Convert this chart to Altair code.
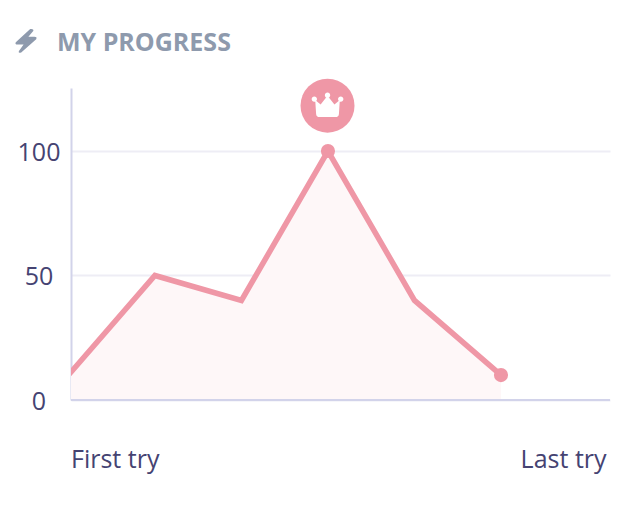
import altair as alt
import pandas as pd

tries = [0, 1, 2, 3, 4, 5]
scores = [10, 50, 40, 100, 40, 10]
best_try = [3, 5]
best_score = [100, 10]
tick_values = [0, 50, 100]
title_text = ["MY PROGRESS"]
end_labels = ["First try", "Last try"]
end_positions = [0.03, 6.22]

PINK = "#ef97a6"
INK = "#454372"
GREY = "#8e9aad"
AXIS = "#d2d3ea"
FONT = "Open Sans"

CROWN = ("M-0.82,-0.38 L-0.46,-0.08 L0,-0.66 L0.46,-0.08 L0.82,-0.38 L0.76,0.55 "
         "Q0.74,0.76 0.54,0.76 L-0.54,0.76 Q-0.74,0.76 -0.76,0.55 Z "
         "M-1.06,-0.44 A0.18,0.18 0 1,1 -0.70,-0.44 A0.18,0.18 0 1,1 -1.06,-0.44 Z "
         "M0.70,-0.44 A0.18,0.18 0 1,1 1.06,-0.44 A0.18,0.18 0 1,1 0.70,-0.44 Z "
         "M-0.18,-0.70 A0.18,0.18 0 1,1 0.18,-0.70 A0.18,0.18 0 1,1 -0.18,-0.70 Z")
BOLT = ("M0.35,-1 L-0.85,0.1 Q-0.95,0.3 -0.7,0.3 L-0.2,0.3 L-0.6,0.85 Q-0.65,1.05 -0.4,0.95 "
        "L0.85,-0.15 Q0.95,-0.35 0.7,-0.35 L0.2,-0.35 L0.62,-0.85 Q0.65,-1.05 0.35,-1 Z")

df = pd.DataFrame({"x": tries, "y": scores})
best = pd.DataFrame({"x": best_try, "y": best_score})
ends = pd.DataFrame({"x": end_positions, "label": end_labels})

x_scale = alt.Scale(domain=[0.03, 6.26], nice=False, zero=False)
y_scale = alt.Scale(domain=[0, 125.3], nice=False)
X = alt.X("x:Q", scale=x_scale, axis=None)
Y = alt.Y("y:Q", scale=y_scale, axis=alt.Axis(
    values=tick_values, title=None, grid=True, gridColor="#eeedf5", gridWidth=2,
    domainColor=AXIS, domainWidth=2, ticks=False, labelAlign="center", labelPadding=32.5, labelOffset=1.5,
    labelFont=FONT, labelFontSize=25, labelColor=INK))

base_axis = alt.Chart(df).mark_rule(color=AXIS, strokeWidth=2).encode(
    x=alt.value(0), x2=alt.value(539), y=alt.value(312))
area = alt.Chart(df).mark_area(color="#fef7f8", opacity=1, clip=True).encode(x=X, y=Y)
line = alt.Chart(df).mark_line(color=PINK, strokeWidth=5.5, clip=True).encode(x=X, y=Y)
dots = alt.Chart(best).mark_point(filled=True, color=PINK, opacity=1, size=200).encode(x=X, y=Y)

badge_xy = pd.DataFrame({"x": [2.995], "y": [118.2]})
badge = alt.Chart(badge_xy).mark_point(filled=True, color=PINK, opacity=1, size=2916, shape="circle").encode(x=X, y=Y)
crown = alt.Chart(badge_xy).mark_point(filled=True, color="#ffffff", opacity=1, size=900, shape=CROWN).encode(x=X, y=Y)

bolt = alt.Chart(df.head(1)).mark_point(filled=True, color=GREY, opacity=1, size=576, shape=BOLT).encode(
    x=alt.value(-45), y=alt.value(-47))
heading = alt.Chart(pd.DataFrame({"label": title_text})).mark_text(
    font=FONT, fontSize=25, fontWeight="bold", color=GREY, baseline="alphabetic", align="left"
).encode(x=alt.value(-14), y=alt.value(-37), text="label:N")

first = alt.Chart(ends.head(1)).mark_text(font=FONT, fontSize=25, color=INK, baseline="alphabetic", align="left").encode(
    x=X, y=alt.value(380), text="label:N")
last = alt.Chart(ends.tail(1)).mark_text(font=FONT, fontSize=25, color=INK, baseline="alphabetic", align="right").encode(
    x=X, y=alt.value(380), text="label:N")

chart = alt.layer(area, line, base_axis, dots, badge, crown, bolt, heading, first, last).properties(
    width=539, height=312,
    padding={"left": 63, "top": 80, "right": 20, "bottom": 90},
    autosize=alt.AutoSizeParams(type="none"),
).configure_view(stroke=None)

chart.save("out.html", embed_options={"renderer": "svg", "actions": False})
